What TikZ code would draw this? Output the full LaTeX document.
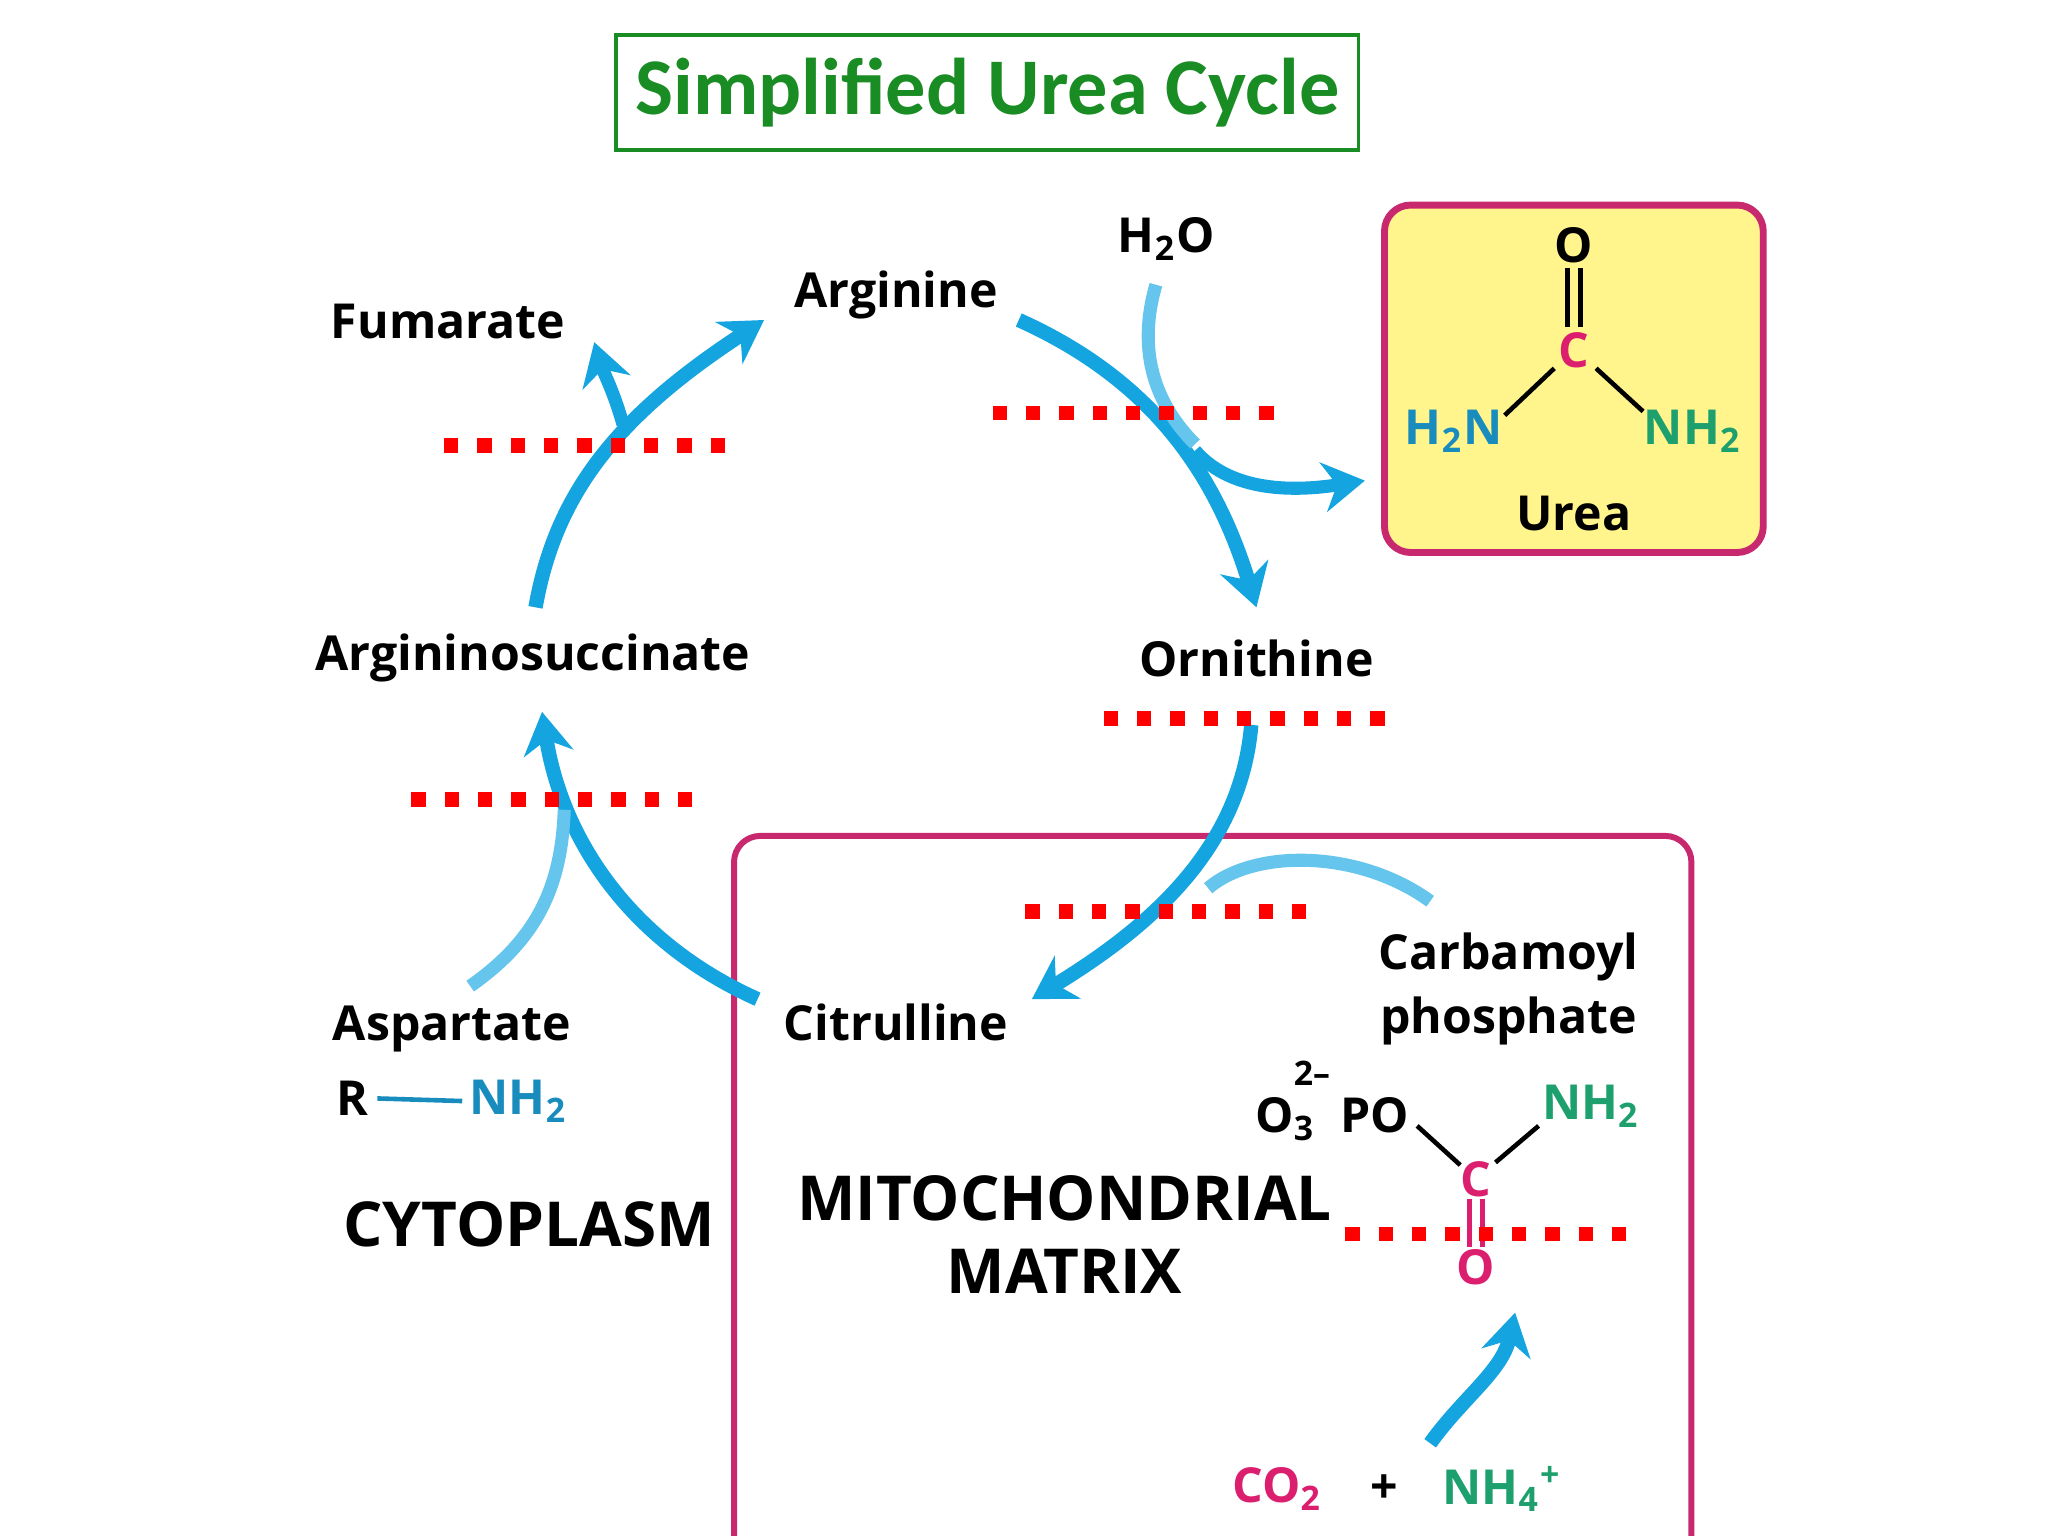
\documentclass[tikz,border=0pt]{standalone}
\usepackage{fontspec}
\setmainfont{Open Sans}
\newfontfamily\titlefont{Carlito}
\usetikzlibrary{arrows.meta}
\definecolor{tgreen}{RGB}{25,140,35}
\definecolor{pinkb}{RGB}{200,40,110}
\definecolor{yell}{RGB}{255,245,140}
\definecolor{ablue}{RGB}{20,165,225}
\definecolor{nblue}{RGB}{25,140,190}
\definecolor{ngreen}{RGB}{30,160,110}
\definecolor{cpink}{RGB}{220,30,110}
\newcommand{\sbs}[1]{\textsubscript{#1}}
\newcommand{\sps}[1]{\textsuperscript{#1}}
\begin{document}
\begin{tikzpicture}[x=0.01cm,y=-0.01cm,
 lab/.style={font=\fontsize{10.5}{12}\selectfont\bfseries,inner sep=0pt},
 arr/.style={line width=0.11cm,ablue,-{Stealth[length=0.32cm,width=0.38cm]}},
 br/.style={line width=0.1cm,ablue!65},
 dots/.style={red,line width=0.11cm,dash pattern=on 0.11cm off 0.145cm},
 bond/.style={line width=1pt}]
\useasboundingbox (0,0) rectangle (1568,1176);
\fill[white] (0,0) rectangle (1568,1176);
% title
\node[draw=tgreen,line width=0.8pt,minimum width=5.68cm,minimum height=0.88cm,text=tgreen,font=\titlefont\fontsize{17.5}{21}\selectfont\bfseries] (title) at (756,71) {Simplified Urea Cycle};
% boxes
\draw[pinkb,line width=1.5pt,fill=yell,rounded corners=0.2cm] (1060,157) rectangle (1350,423);
\draw[pinkb,line width=1.3pt,rounded corners=0.2cm] (562,640) rectangle (1295,1200);
% urea
\node[lab] (uO) at (1205,188) {O};
\node[lab,text=cpink] (uC) at (1205,268) {C};
\node[lab,text=nblue] (uN1) at (1113,330) {H\sbs{2}N};
\node[lab,text=ngreen] (uN2) at (1296,330) {NH\sbs{2}};
\node[lab] (urea) at (1205,393) {Urea};
\draw[bond] (1200,205)--(1200,250) (1210,205)--(1210,250);
\draw[bond] (1190,282)--(1152,318) (1222,282)--(1258,315);
% labels
\node[lab] (fum) at (343,246) {Fumarate};
\node[lab] (arg) at (686,226) {Arginine};
\node[lab] (h2o) at (893,183) {H\sbs{2}O};
\node[lab] (as) at (408,504) {Argininosuccinate};
\node[lab] (orn) at (962,504) {Ornithine};
\node[lab] (cit) at (686,783) {Citrulline};
\node[lab] (asp) at (346,788) {Aspartate};
\node[lab] (R) at (270,841) {R};
\node[lab,text=nblue] (rn) at (397,843) {NH\sbs{2}};
\draw[nblue,line width=1pt] ([xshift=0.06cm]R.east) -- ([xshift=-0.05cm]rn.west);
\node[inner sep=0pt,font=\fontsize{13.5}{16}\selectfont\bfseries] (cyto) at (405,937) {CYTOPLASM};
\node[inner sep=0pt,align=center,font=\fontsize{13.5}{16}\selectfont\bfseries] (mito) at (815,945) {MITOCHONDRIAL\\MATRIX};
\node[lab,align=center,font=\fontsize{10.5}{14}\selectfont\bfseries] (cp) at (1155,757) {Carbamoyl\\phosphate};
\node[lab] (po) at (1020,843) {O\sbs{3}\hspace{-0.45em}\raisebox{1.1ex}{\sps{2–}}\,PO};
\node[lab,text=ngreen] (cn) at (1218,847) {NH\sbs{2}};
\node[lab,text=cpink] (cc) at (1130,903) {C};
\node[lab,text=cpink] (co) at (1130,970) {O};
\draw[bond] (1085,862)--(1118,892) (1145,890)--(1178,862);
\draw[bond,cpink] (1125,918)--(1125,955) (1135,918)--(1135,955);
\node[lab,text=cpink] (co2) at (978,1140) {CO\sbs{2}};
\node[lab] (plus) at (1060,1140) {+};
\node[lab,text=ngreen] (nh4) at (1150,1140) {NH\sbs{4}\sps{+}};
% arrows
\draw[arr] (410,465) .. controls (425,380) and (470,320) .. (585,245);
\draw[br,-{Stealth[length=0.32cm,width=0.38cm]},ablue] (477,325) .. controls (470,300) and (462,285) .. (455,262);
\draw[arr] (780,245) .. controls (880,290) and (930,360) .. (962,465);
\draw[br] (885,218) .. controls (870,270) and (885,310) .. (915,340);
\draw[br,ablue,-{Stealth[length=0.32cm,width=0.38cm]}] (915,345) .. controls (945,380) and (1000,375) .. (1045,368);
\draw[arr] (958,555) .. controls (950,650) and (880,710) .. (790,765);
\draw[br] (1095,690) .. controls (1040,650) and (960,650) .. (925,680);
\draw[arr] (580,765) .. controls (480,720) and (430,640) .. (415,545);
\draw[br] (360,755) .. controls (410,720) and (430,680) .. (432,620);
\draw[arr] (1095,1105) .. controls (1120,1070) and (1150,1050) .. (1160,1005);
% dotted lines
\draw[dots] (340,341)--(565,341);
\draw[dots] (760,316)--(985,316);
\draw[dots] (845,550)--(1070,550);
\draw[dots] (315,612)--(540,612);
\draw[dots] (785,698)--(1010,698);
\draw[dots] (1030,945)--(1255,945);
\end{tikzpicture}
\end{document}
